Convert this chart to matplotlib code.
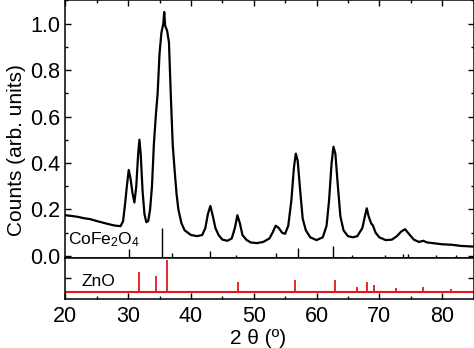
import numpy as np
import matplotlib
matplotlib.use("Agg")
import matplotlib.pyplot as plt
from matplotlib.ticker import MultipleLocator

plt.rcParams['font.family'] = ['Liberation Sans', 'DejaVu Sans']
plt.rcParams['mathtext.default'] = 'regular'

# XRD pattern (2 theta, normalised counts)
two_theta = [20.0, 21.0, 22.0, 23.0, 24.0, 25.0, 26.0, 27.0, 28.0, 28.8,
             29.2, 29.5, 29.8, 30.1, 30.4, 30.7, 31.0, 31.3, 31.6, 31.8,
             32.0, 32.3, 32.6, 32.9, 33.2, 33.5, 33.8, 34.1, 34.4, 34.7,
             35.0, 35.3, 35.6, 35.75, 35.9, 36.2, 36.5, 36.8, 37.1, 37.4,
             37.7, 38.0, 38.5, 39.0, 39.5, 40.0, 41.0, 41.8, 42.3, 42.7,
             43.1, 43.5, 43.9, 44.4, 45.0, 45.8, 46.5, 47.0, 47.4, 47.8,
             48.2, 48.8, 49.5, 50.5, 51.5, 52.5, 53.0, 53.5, 54.0, 54.5,
             55.0, 55.5, 56.0, 56.4, 56.7, 57.0, 57.4, 57.8, 58.3, 59.0,
             60.0, 61.0, 61.6, 62.0, 62.4, 62.7, 63.0, 63.4, 63.8, 64.3,
             65.0, 65.8, 66.5, 67.3, 67.7, 68.0, 68.3, 68.7, 69.0, 69.4,
             70.0, 71.0, 72.0, 72.8, 73.5, 74.1, 74.7, 75.5, 76.3, 77.0,
             77.6, 78.5, 80.0, 81.5, 83.0, 85.0]
counts = [0.175, 0.172, 0.168, 0.162, 0.158, 0.150, 0.143, 0.136, 0.130, 0.128,
          0.150, 0.22, 0.30, 0.37, 0.33, 0.27, 0.23, 0.30, 0.44, 0.50,
          0.44, 0.28, 0.18, 0.145, 0.15, 0.20, 0.30, 0.48, 0.60, 0.70,
          0.87, 0.96, 1.00, 1.05, 0.99, 0.97, 0.92, 0.69, 0.48, 0.37,
          0.27, 0.20, 0.14, 0.11, 0.10, 0.09, 0.085, 0.09, 0.12, 0.18,
          0.215, 0.17, 0.12, 0.09, 0.07, 0.065, 0.075, 0.12, 0.175, 0.14,
          0.09, 0.07, 0.058, 0.055, 0.06, 0.075, 0.10, 0.13, 0.12, 0.10,
          0.095, 0.13, 0.24, 0.38, 0.44, 0.41, 0.28, 0.16, 0.11, 0.08,
          0.068, 0.08, 0.13, 0.24, 0.40, 0.47, 0.44, 0.30, 0.17, 0.11,
          0.085, 0.08, 0.085, 0.12, 0.17, 0.205, 0.17, 0.14, 0.13, 0.10,
          0.08, 0.068, 0.07, 0.085, 0.105, 0.115, 0.095, 0.07, 0.06, 0.065,
          0.058, 0.055, 0.05, 0.048, 0.043, 0.04]

# CoFe2O4 reference lines (top panel)
cofe_pos = [30.1, 35.4, 37.0, 43.0, 47.1, 53.5, 57.0, 62.6, 65.7, 70.9,
            73.8, 74.6, 79.0, 82.2]
cofe_h = [0.028, 0.12, 0.013, 0.019, 0.005, 0.013, 0.035, 0.043, 0.005, 0.005,
          0.01, 0.006, 0.005, 0.005]

# ZnO reference lines (bottom panel)
zno_pos = [31.8, 34.4, 36.25, 47.5, 56.6, 62.9, 66.4, 67.96, 69.1, 72.6, 76.95, 81.4]
zno_h = [63, 50, 100, 32, 39, 37, 16, 32, 21, 13, 16, 11]

fig = plt.figure(figsize=(4.74, 3.48), dpi=100)
left, width = 0.1378, 0.8612
ax = fig.add_axes([left, 0.26, width, 0.739])
ax2 = fig.add_axes([left, 0.14, width, 0.12], sharex=ax)

red = '#e8161e'

ax.plot(two_theta, counts, color='black', lw=1.6)
ax.vlines(cofe_pos, -0.02, cofe_h, color='black', lw=1.0)
ax.set_xlim(20, 85)
ax.set_ylim(-0.007, 1.10)
ax.yaxis.set_major_locator(MultipleLocator(0.2))
ax.yaxis.set_minor_locator(MultipleLocator(0.1))
ax.xaxis.set_major_locator(MultipleLocator(10))
ax.xaxis.set_minor_locator(MultipleLocator(5))
ax.tick_params(which='both', direction='in', left=True, right=True,
               top=True, bottom=False, labelbottom=False, width=1.0)
ax.tick_params(which='major', length=4.5, labelsize=15.5)
ax.tick_params(which='minor', length=2.5)
ax.text(20.5, 0.05, 'CoFe$_2$O$_4$', fontsize=12.5, va='baseline')

ax2.vlines(zno_pos, 0, zno_h, color=red, lw=1.3)
ax2.axhline(0, color=red, lw=1.5)
ax2.set_ylim(-23, 109)
ax2.set_yticks([43])
ax2.set_yticklabels([])
ax2.tick_params(which='both', direction='in', left=True, right=True,
                top=False, bottom=True, width=1.0)
ax2.tick_params(which='major', length=4.5, labelsize=15.5, pad=5)
ax2.tick_params(which='minor', length=2.5)
ax2.text(22.6, 20, 'ZnO', fontsize=12.5, va='baseline')

for a in (ax, ax2):
    for s in a.spines.values():
        s.set_linewidth(1.1)

fig.text(0.035, 0.57, 'Counts (arb. units)', rotation=90, ha='center',
         va='center', fontsize=15)
fig.text(258 / 474, 1 - 344 / 348, '2 θ (º)', ha='center', va='baseline',
         fontsize=15)

fig.savefig('out.png', dpi=100)
